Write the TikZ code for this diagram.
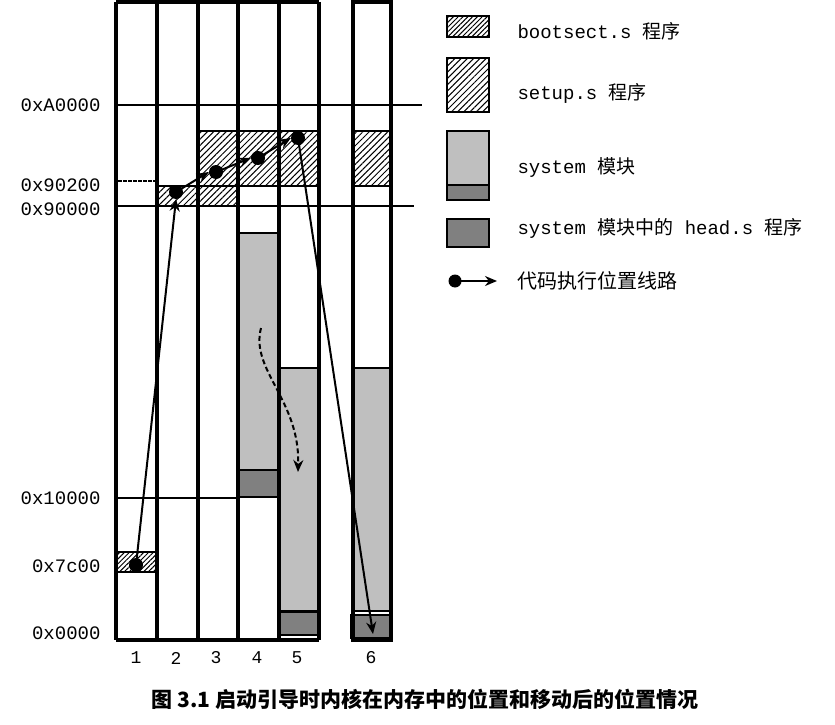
\documentclass[tikz,border=0pt]{standalone}
\usepackage{fontspec}
\setmonofont{Liberation Mono}
\newfontfamily\cjk{Noto Sans CJK SC}
\usetikzlibrary{patterns.meta,arrows.meta}
\tikzset{
 hatchA/.style={pattern={Lines[angle=45,distance=3.4pt,line width=1pt]}},
 hatchB/.style={pattern={Lines[angle=45,distance=4.4pt,line width=1pt]}},
 lgray/.style={fill=black!25},
 dgray/.style={fill=black!50},
 thin/.style={line width=1.1pt},
 col/.style={line width=4pt},
 dot/.style={circle,fill=black,inner sep=0pt,minimum size=14pt},
 path/.style={line width=2pt,-{Stealth[length=12pt,width=10pt]}},
 addr/.style={anchor=east,font=\ttfamily\fontsize{19}{19}\selectfont},
 num/.style={font=\ttfamily\fontsize{18}{18}\selectfont},
 leg/.style={anchor=west,font=\ttfamily\fontsize{19}{19}\selectfont}
}
\begin{document}
\begin{tikzpicture}[x=1pt,y=-1pt]
\useasboundingbox (0,0) rectangle (835,725);
\fill[white] (0,0) rectangle (835,725);
\fill[hatchA] (116,552) rectangle (157,572);
\draw[thin] (116,552) rectangle (157,572);
\fill[hatchB] (157,186) rectangle (238,206);
\draw[thin] (157,186) rectangle (238,206);
\fill[hatchB] (198,131) rectangle (319,186);
\draw[thin] (198,131) rectangle (319,186);
\fill[hatchB] (353,131) rectangle (391,186);
\draw[thin] (353,131) rectangle (391,186);
\draw[thin,lgray] (238,233) rectangle (279,470);
\draw[thin,dgray] (238,470) rectangle (279,497);
\draw[thin,lgray] (279,368) rectangle (319,611);
\draw[thin,dgray] (279,612) rectangle (319,635);
\draw[thin,lgray] (353,368) rectangle (391,611);
\draw[thin,dgray] (351,615) rectangle (391,638);
\draw[thin] (116,105) -- (422,105);
\draw[thin] (116,206) -- (414,206);
\draw[thin] (116,498) -- (238,498);
\draw[thin,dash pattern=on 4pt off 1pt] (118,181) -- (157,181);
\foreach \x in {116,157,198,238,279,319} \draw[col] (\x,2) -- (\x,640);
\draw[col] (116,2) -- (319,2) (116,640) -- (319,640);
\draw[col] (353,2) rectangle (391,640);
\node[addr] (a1) at (104,105) {0xA0000};
\node[addr] (a2) at (104,185) {0x90200};
\node[addr] (a3) at (104,209) {0x90000};
\node[addr] (a4) at (104,498) {0x10000};
\node[addr] (a5) at (104,566) {0x7c00};
\node[addr] (a6) at (104,633) {0x0000};
\foreach \i/\x in {1/136,2/176,3/216,4/257,5/297,6/371} \node[num] (n\i) at (\x,658) {\i};
\node[dot] (d1) at (136,565) {};
\node[dot] (d2) at (176,192) {};
\node[dot] (d3) at (216,172) {};
\node[dot] (d4) at (258,158) {};
\node[dot] (d5) at (298,138) {};
\coordinate (e) at (373,634);
\draw[path] (d1.center) -- (d2.south);
\draw[path] (d2.center) -- (d3.west);
\draw[path] (d3.center) -- (d4.west);
\draw[path] (d4.center) -- (d5.west);
\draw[path] (d5.center) -- (e);
\coordinate (m1) at (261,328);
\coordinate (m2) at (298,472);
\draw[line width=2pt,dash pattern=on 5pt off 3pt,-{Stealth[length=12pt,width=10pt]}] (m1) .. controls (250,370) and (300,400) .. (m2);
\fill[hatchA] (447,16) rectangle (489,37); \draw[thin] (447,16) rectangle (489,37);
\fill[hatchB] (447,58) rectangle (489,112); \draw[thin] (447,58) rectangle (489,112);
\draw[thin,lgray] (447,131) rectangle (489,185);
\draw[thin,dgray] (447,185) rectangle (489,200);
\draw[thin,dgray] (447,219) rectangle (489,247);
\node[leg] (l1) at (514,31) {bootsect.s {\cjk 程序}};
\node[leg] (l2) at (514,93) {setup.s {\cjk 程序}};
\node[leg] (l3) at (514,167) {system {\cjk 模块}};
\node[leg] (l4) at (514,228) {system {\cjk 模块中的} head.s {\cjk 程序}};
\node[dot,minimum size=13pt] (ld) at (455,281) {};
\coordinate (le) at (497,281);
\draw[path] (ld.center) -- (le);
\node[leg] (l5) at (514,281) {\cjk\fontsize{20}{20}\selectfont 代码执行位置线路};
\node[font=\cjk\bfseries\fontsize{21}{21}\selectfont] (cap) at (425,699) {图 3.1 启动引导时内核在内存中的位置和移动后的位置情况};
\end{tikzpicture}
\end{document}
